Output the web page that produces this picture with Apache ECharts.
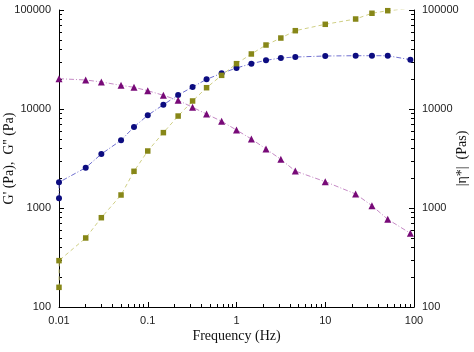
<!DOCTYPE html>
<html>
<head>
<meta charset="utf-8">
<script src="https://cdn.jsdelivr.net/npm/echarts@6/dist/echarts.min.js"></script>
<style>
  html, body { margin: 0; padding: 0; background: #fff; }
  #chart { width: 474px; height: 352px; }
</style>
</head>
<body>
<div id="chart"></div>
<script>
// frequency (Hz) of each measured point
const freqMod = [0.01, 0.01, 0.02, 0.03, 0.05, 0.07, 0.1, 0.15, 0.22, 0.32, 0.46, 0.68, 1, 1.47, 2.15, 3.16, 4.6, 10, 22, 33.6, 50.6, 91];
const freqVisc = [0.01, 0.02, 0.03, 0.05, 0.07, 0.1, 0.15, 0.22, 0.32, 0.46, 0.68, 1, 1.47, 2.15, 3.16, 4.6, 10, 22, 33.6, 50.6, 91];

// G'' (Pa) - blue circles
const lossModulus = [1253, 1818, 2553, 3510, 4830, 6580, 8640, 11050, 13840, 16680, 19950, 22950, 25950, 28700, 31050, 32730, 33500, 34300, 34530, 34530, 34530, 31470];
// G' (Pa) - olive squares
const storageModulus = [158, 294, 498, 798, 1353, 2348, 3765, 5770, 8490, 12050, 16410, 21880, 28700, 35960, 44290, 52100, 61800, 71700, 81100, 92700, 98400, 104000];
// |eta*| (Pas) - purple triangles
const complexVisc = [20230, 19640, 18750, 17340, 16560, 15310, 13750, 12240, 10400, 8890, 7510, 6130, 4980, 3950, 3100, 2360, 1845, 1385, 1055, 769, 555];

const chart = echarts.init(document.getElementById('chart'));

const labelFont = { fontFamily: 'Liberation Sans', fontSize: 11, color: '#222' };
const titleFont = { fontFamily: 'Liberation Serif', fontSize: 14, color: '#111' };
const plain = v => String(+(+v).toPrecision(6));

// shared look of the three log axes
const logAxis = (extra) => Object.assign({
    type: 'log',
    logBase: 10,
    nameLocation: 'middle',
    nameMoveOverlap: false,
    nameTextStyle: titleFont,
    axisLine: { show: true, lineStyle: { color: '#000', width: 1 } },
    axisTick: { inside: true, length: 5, lineStyle: { color: '#000' } },
    minorTick: { show: true, splitNumber: 9, length: 3, lineStyle: { color: '#000' } },
    axisLabel: Object.assign({ margin: 8, formatter: plain }, labelFont),
    splitLine: { show: false },
    minorSplitLine: { show: false }
}, extra);

const option = {
    animation: false,
    grid: { left: 59, right: 60, top: 10, bottom: 45, containLabel: false, outerBoundsMode: 'none' },
    xAxis: logAxis({
        min: 0.01,
        max: 100,
        name: 'Frequency (Hz)',
        nameGap: 22
    }),
    yAxis: [
        logAxis({
            min: 100,
            max: 100000,
            name: "G' (Pa),  G'' (Pa)",
            nameRotate: 90,
            nameGap: 43
        }),
        logAxis({
            min: 100,
            max: 100000,
            position: 'right',
            name: '|η*|  (Pas)',
            nameRotate: 90,
            nameGap: 41
        })
    ],
    series: [
        {
            name: "G''",
            type: 'line',
            data: freqMod.map((f, i) => [f, lossModulus[i]]),
            symbol: 'circle',
            symbolSize: 6,
            itemStyle: { color: '#0c0c80' },
            lineStyle: { color: '#6f6fcf', width: 1, type: [5, 2, 1, 2] },
            z: 3
        },
        {
            name: "G'",
            type: 'line',
            data: freqMod.map((f, i) => [f, storageModulus[i]]),
            symbol: 'rect',
            symbolSize: 5.5,
            itemStyle: { color: '#878718' },
            lineStyle: { color: '#cfcf85', width: 1, type: [4, 3] },
            z: 3
        },
        {
            name: '|η*|',
            type: 'line',
            yAxisIndex: 1,
            data: freqVisc.map((f, i) => [f, complexVisc[i]]),
            symbol: 'triangle',
            symbolSize: 7,
            itemStyle: { color: '#780a78' },
            lineStyle: { color: '#c58ac5', width: 1, type: [5, 2, 1, 2] },
            z: 3
        }
    ]
};

chart.setOption(option);
</script>
</body>
</html>
